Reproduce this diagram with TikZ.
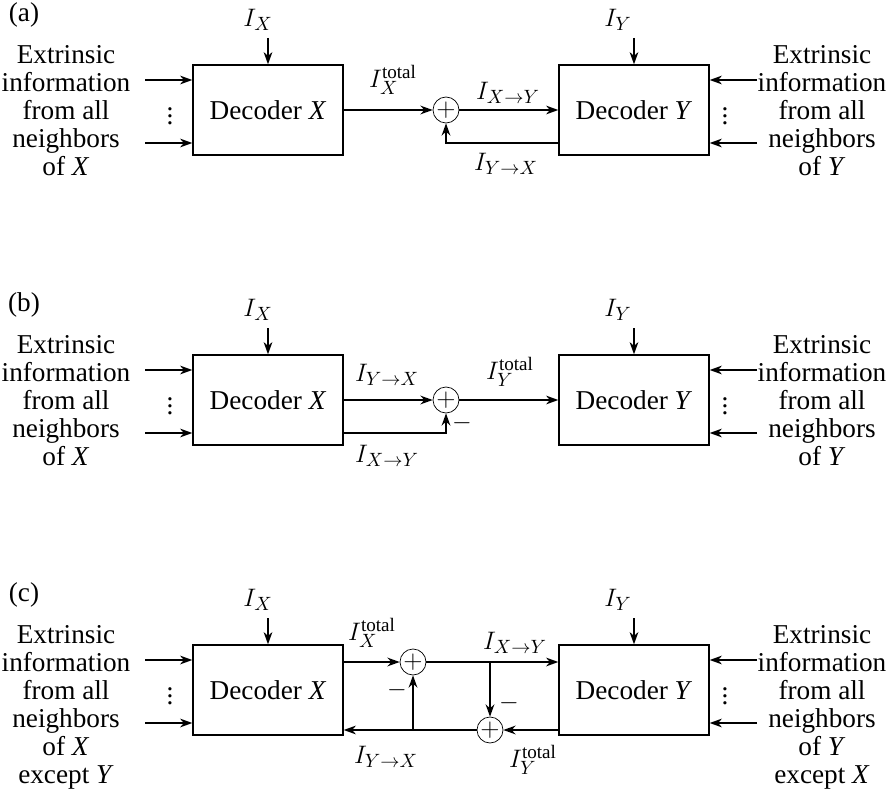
\documentclass[tikz,border=0pt]{standalone}
\usepackage{fontspec}
\setmainfont{Liberation Serif}
\usetikzlibrary{positioning, arrows.meta}
\begin{document}
\begin{tikzpicture}[x=0.02cm, y=-0.02cm,
  every node/.style={font=\fontsize{15.5}{15.9}\selectfont},
  box/.style={draw, thick, minimum width=3cm, minimum height=1.8cm, inner sep=0pt},
  sum/.style={draw, circle, minimum size=0.52cm, inner sep=0pt},
  arrow/.style={-{Stealth[length=7pt,width=5pt]}, thick},
  side/.style={align=center, font=\fontsize{15.5}{15.9}\selectfont, anchor=north, inner sep=0pt}
]
\useasboundingbox (0,0) rectangle (890,794);

\foreach \dy/\tag in {0/a, 290/b, 580/c}{
  % decoders and their inputs
  \node[box] (dx\tag) at (268,110+\dy) {Decoder \textit{X}};
  \node[box] (dy\tag) at (634,110+\dy) {Decoder \textit{Y}};
  \node (tag\tag) at (24,15+\dy) {(\tag)};
  \node (ix\tag) at (258,20+\dy) {$I_X$};
  \node (iy\tag) at (618,20+\dy) {$I_Y$};
  \coordinate (ixs\tag) at (268,38+\dy);
  \coordinate (iys\tag) at (634,38+\dy);
  \draw[arrow] (ixs\tag) -- (dx\tag.north);
  \draw[arrow] (iys\tag) -- (dy\tag.north);
  \coordinate (la\tag) at (145,80+\dy);
  \coordinate (lb\tag) at (145,143+\dy);
  \coordinate (ra\tag) at (757,80+\dy);
  \coordinate (rb\tag) at (757,143+\dy);
  \draw[arrow] (la\tag) -- (dx\tag.west |- la\tag);
  \draw[arrow] (lb\tag) -- (dx\tag.west |- lb\tag);
  \draw[arrow] (ra\tag) -- (dy\tag.east |- ra\tag);
  \draw[arrow] (rb\tag) -- (dy\tag.east |- rb\tag);
  \node (ldots\tag) at (170,111+\dy) {$\vdots$};
  \node (rdots\tag) at (725,111+\dy) {$\vdots$};
}

% side texts
\node[side] (txa) at (66,45) {Extrinsic\\information\\from all\\neighbors\\of \textit{X}};
\node[side] (tya) at (822,45) {Extrinsic\\information\\from all\\neighbors\\of \textit{Y}};
\node[side] (txb) at (66,335) {Extrinsic\\information\\from all\\neighbors\\of \textit{X}};
\node[side] (tyb) at (822,335) {Extrinsic\\information\\from all\\neighbors\\of \textit{Y}};
\node[side] (txc) at (66,625) {Extrinsic\\information\\from all\\neighbors\\of \textit{X}\\except \textit{Y}};
\node[side] (tyc) at (822,625) {Extrinsic\\information\\from all\\neighbors\\of \textit{Y}\\except \textit{X}};

% (a)
\node[sum] (sa) at (446,110) {$+$};
\draw[arrow] (dxa.east |- sa) -- (sa);
\draw[arrow] (sa) -- (dya.west |- sa);
\draw[arrow] (dya.west |- rba) -| (sa.south);
\node (itxa) at (393,80) {$I_X^{\mathrm{total}}$};
\node (ixya) at (508,93) {$I_{X\to Y}$};
\node (iyxa) at (506,164) {$I_{Y\to X}$};

% (b)
\node[sum] (sb) at (446,400) {$+$};
\draw[arrow] (dxb.east |- sb) -- (sb);
\draw[arrow] (sb) -- (dyb.west |- sb);
\draw[arrow] (dxb.east |- lbb) -| (sb.south);
\node (mb) at (462,423) {$-$};
\node (iyxb) at (387,375) {$I_{Y\to X}$};
\node (itxb) at (510,372) {$I_Y^{\mathrm{total}}$};
\node (ixyb) at (387,456) {$I_{X\to Y}$};

% (c)
\node[sum] (s1) at (413,662) {$+$};
\node[sum] (s2) at (490,730) {$+$};
\coordinate (bx) at (490,662);
\coordinate (by) at (413,730);
\draw[arrow] (dxc.east |- s1) -- (s1);
\draw[arrow] (s1) -- (dyc.west |- s1);
\draw[arrow] (bx) -- (s2.north);
\draw[arrow] (dyc.west |- s2) -- (s2);
\draw[arrow] (s2) -- (dxc.east |- s2);
\draw[arrow] (by) -- (s1.south);
\node (m1) at (397,690) {$-$};
\node (m2) at (509,703) {$-$};
\node (itxc) at (372,633) {$I_X^{\mathrm{total}}$};
\node (ixyc) at (515,643) {$I_{X\to Y}$};
\node (iyxc) at (386,757) {$I_{Y\to X}$};
\node (ityc) at (533,760) {$I_Y^{\mathrm{total}}$};
\end{tikzpicture}
\end{document}
